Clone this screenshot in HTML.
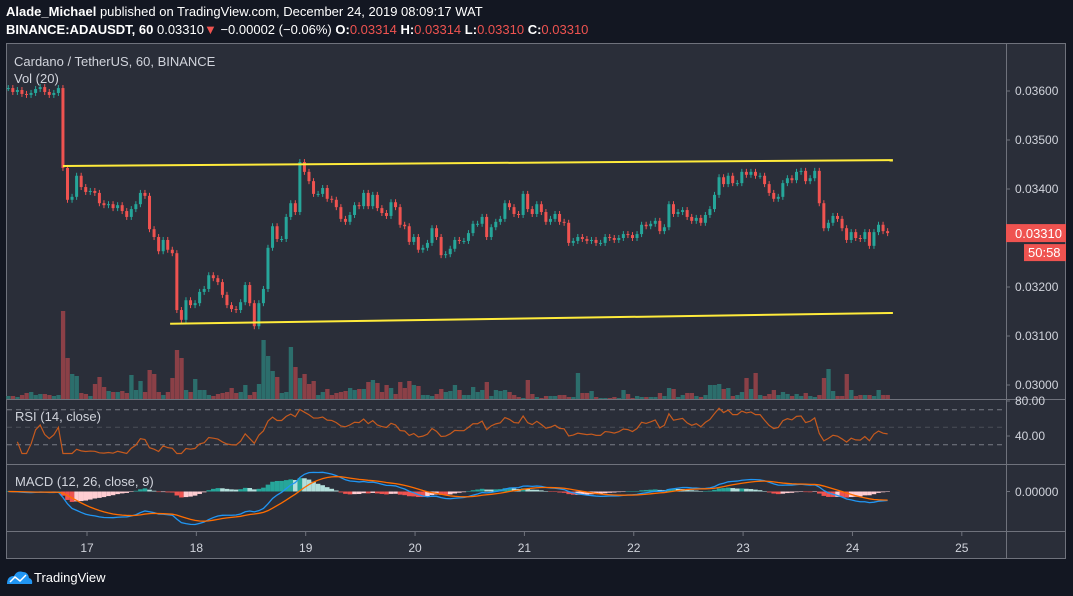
<!DOCTYPE html>
<html><head><meta charset="utf-8"><style>
html,body{margin:0;padding:0;background:#131722;width:1073px;height:596px;overflow:hidden;font-family:"Liberation Sans",sans-serif}
.hdr{position:absolute;left:6px;color:#fff;font-size:13px;white-space:nowrap}
.r{color:#ef5350}
</style></head><body>
<div class="hdr" style="top:4px"><b>Alade_Michael</b> published on TradingView.com, December 24, 2019 08:09:17 WAT</div>
<div class="hdr" style="top:22px"><b>BINANCE:ADAUSDT, 60</b> 0.03310<span class="r">▼</span> −0.00002 (−0.06%) <b>O:</b><span class="r">0.03314</span> <b>H:</b><span class="r">0.03314</span> <b>L:</b><span class="r">0.03310</span> <b>C:</b><span class="r">0.03310</span></div>
<svg id="c" width="1073" height="596" style="position:absolute;left:0;top:0"></svg>
<script>
const closesY = [88,92,90,94,95,93,89,87,92,95,93,88,
168,200,197,176,187,192,191,193,203,205,204,208,205,211,217,209,204,193,196,229,237,251,240,250,253,310,320,300,305,303,292,289,275,278,282,295,305,309,310,302,285,303,326,303,289,248,226,239,239,217,
203,212,162,172,181,194,194,188,199,200,207,219,222,215,205,206,193,206,195,208,213,216,202,207,225,226,242,237,250,248,243,228,237,255,254,249,240,241,241,233,224,224,217,237,227,222,219,203,207,214,215,194,209,214,204,212,222,219,214,222,223,243,241,237,239,241,240,243,
243,237,238,240,238,234,235,238,234,225,226,224,221,231,227,204,214,212,210,217,221,218,223,215,209,195,177,184,176,183,183,172,175,172,176,176,184,193,199,197,183,178,180,172,171,181,178,171,203,228,223,216,219,228,240,232,238,239,232,246,232,225,231,233];
const closes = closesY.map(y => +(0.036 - (y-91)/49000).toFixed(5));
const volumes = [3,3,2,4,6,7,4,5,5,4,3,4,88,41,25,23,6,5,3,15,22,12,8,7,7,8,6,24,9,18,7,29,25,7,4,7,21,49,41,9,7,20,9,9,4,3,5,6,7,11,6,7,14,4,7,15,59,43,28,22,6,7,
52,32,21,25,15,18,4,7,10,4,6,7,8,11,9,10,10,17,19,16,7,14,11,5,17,11,18,14,13,4,4,3,5,10,7,8,14,9,4,4,12,7,9,17,3,9,8,9,7,4,2,1,19,5,2,1,3,3,3,4,4,2,2,26,6,6,8,
2,1,1,1,2,1,9,5,1,3,2,2,2,2,6,3,11,10,2,4,6,6,3,2,4,14,14,15,10,11,3,4,7,21,10,26,4,3,5,9,4,7,5,3,5,3,6,3,2,4,21,30,8,3,3,25,9,3,4,4,4,3,9,4,4];
const priceTicks = [0.036,0.035,0.034,0.032,0.031,0.030];
const dayTicks = [17,18,19,20,21,22,23,24,25];
const upperLine = [[16.78,0.03447],[24.37,0.03459]];
const lowerLine = [[17.76,0.03125],[24.37,0.03147]];
const startDay = 16.28, hoursPerBar = 1;

const NS='http://www.w3.org/2000/svg', svg=document.getElementById('c');
function el(t,a,p){const e=document.createElementNS(NS,t);for(const k in a)e.setAttribute(k,a[k]);(p||svg).appendChild(e);return e;}
const dayX = d => 87 + (d-17)*109.35;
const barX = i => dayX(startDay + i*hoursPerBar/24);
const py = p => 91 + (0.036-p)*49000;
const vy = v => 399 - v;
const ry = v => 401 + (80-v)*0.875;

let e=el('rect',{x:6.5,y:43.5,width:1059,height:515,fill:'#2a2e39',stroke:'#6f727c'});

[[6,399.5,1066,399.5],[6,464.5,1066,464.5],[6,531.5,1066,531.5],[1006.5,43,1006.5,559]].forEach(l=>{const ln=el('line',{x1:l[0],y1:l[1],x2:l[2],y2:l[3],stroke:'#6f727c'});});

function txt(x,y,s,opt){const t=el('text',Object.assign({x:x,y:y,fill:'#d1d4dc','font-size':12,'font-family':'Liberation Sans, sans-serif'},opt||{}));t.textContent=s;return t;}
e=txt(14,66,'Cardano / TetherUS, 60, BINANCE',{'font-size':13});
e=txt(14,83,'Vol (20)',{'font-size':13});
e=txt(15,421,'RSI (14, close)',{'font-size':13});
e=txt(15,486,'MACD (12, 26, close, 9)',{'font-size':13});

priceTicks.forEach(p=>{const y=py(p);el('line',{x1:1006,x2:1010,y1:y,y2:y,stroke:'#6f727c'});
 const t=txt(1015,y+4,p.toFixed(5));});
[[80,'80.00',401],[40,'40.00',436]].forEach(r=>{el('line',{x1:1006,x2:1010,y1:r[2],y2:r[2],stroke:'#6f727c'});const t=txt(1015,r[2]+4,r[1]);});
el('line',{x1:1006,x2:1010,y1:491.5,y2:491.5,stroke:'#6f727c'});
e=txt(1015,496,'0.00000');
dayTicks.forEach(d=>{const x=dayX(d);el('line',{x1:x,x2:x,y1:532,y2:536,stroke:'#6f727c'});
 const t=txt(x,552,String(d),{'text-anchor':'middle'});});

[[70,'#787b86'],[30,'#787b86'],[50,'#4a4e59']].forEach(b=>{const ln=el('line',{x1:7,x2:1006,y1:ry(b[0]),y2:ry(b[0]),stroke:b[1],'stroke-dasharray':'5,4'});});

closes.forEach((c,i)=>{
 const o=i?closes[i-1]:c, up=c>=o, x=barX(i);
 const vb=el('rect',{x:x-2,y:vy(volumes[i]),width:4.3,height:volumes[i],fill:up?'#2c6e6c':'#8b4047'});
 
});
closes.forEach((c,i)=>{
 const o=i?closes[i-1]:c, up=c>=o, x=barX(i), col=up?'#26a69a':'#ef5350';
 const t=Math.min(py(o),py(c)), b=Math.max(py(o),py(c));
 const w=el('line',{x1:x,x2:x,y1:t-3,y2:b+3,stroke:col,'stroke-width':1});
 
 const r=el('rect',{x:x-1.5,y:t,width:3,height:Math.max(1,b-t),fill:col});
 
});

[[upperLine,'upper-trendline'],[lowerLine,'lower-trendline']].forEach(L=>{const l=L[0];
 const ln=el('line',{x1:dayX(l[0][0]),y1:py(l[0][1]),x2:dayX(l[1][0]),y2:py(l[1][1]),stroke:'#ffeb3b','stroke-width':2});
 });

let ag=0,al=0,rsi=[];
for(let i=1;i<closes.length;i++){const d=closes[i]-closes[i-1],g=Math.max(d,0),l=Math.max(-d,0);
 if(i<=14){ag+=g/14;al+=l/14;}else{ag=(ag*13+g)/14;al=(al*13+l)/14;}
 rsi.push([i, al===0?100:100-100/(1+ag/al)]);}
const rp=el('polyline',{points:rsi.filter(r=>r[0]>=2).map(r=>barX(r[0])+','+ry(Math.max(20,Math.min(85,r[1])))).join(' '),fill:'none',stroke:'#c65a1e','stroke-width':1.2});


function ema(a,n){const k=2/(n+1);let r=[],p=a[0];a.forEach(v=>{p=v*k+p*(1-k);r.push(p);});return r;}
const e12=ema(closes,12),e26=ema(closes,26),macd=closes.map((_,i)=>e12[i]-e26[i]),sig=ema(macd,9),hist=macd.map((m,i)=>m-sig[i]);
const mmin=Math.min(...macd), my=v=>491.5 - v*(33/Math.abs(mmin));
hist.forEach((h,i)=>{const prev=i?hist[i-1]:h, col=h>=0?(h>=prev?'#26a69a':'#b2dfdb'):(h<prev?'#ef5350':'#ffcdd2');
 const y=my(h),b=el('rect',{x:barX(i)-2.3,y:Math.min(y,491.5),width:4.6,height:Math.max(0.5,Math.abs(y-491.5)),fill:col});
 });
const ml=el('polyline',{points:macd.map((m,i)=>barX(i)+','+my(m)).join(' '),fill:'none',stroke:'#2196f3','stroke-width':1.3});

const sl=el('polyline',{points:sig.map((m,i)=>barX(i)+','+my(m)).join(' '),fill:'none',stroke:'#ff6d00','stroke-width':1.3});


const last=closes[closes.length-1], ly=py(last);
el('line',{x1:1006,x2:1010,y1:ly,y2:ly,stroke:'#fff'});
let pl=el('rect',{x:1006,y:ly-9,width:60,height:18,fill:'#ef5350'});
e=txt(1015,ly+5,last.toFixed(5),{fill:'#fff','font-size':13});
pl=el('rect',{x:1024,y:ly+11,width:42,height:17,fill:'#ef5350'});
e=txt(1028,ly+24,'50:58',{fill:'#fff','font-size':13});

const g=el('g',{});
el('path',{d:'M7 584 Q7 576 14 576 Q17 570 23 572 Q28 572 29 578 Q33 579 32 584 Z',fill:'#2196f3'},g);
el('polyline',{points:'10,582 15,577 20,581 26,575',fill:'none',stroke:'#fff','stroke-width':1.5},g);
txt(34,582,'TradingView',{'font-size':13,fill:'#fff'},g);
</script>
</body></html>
